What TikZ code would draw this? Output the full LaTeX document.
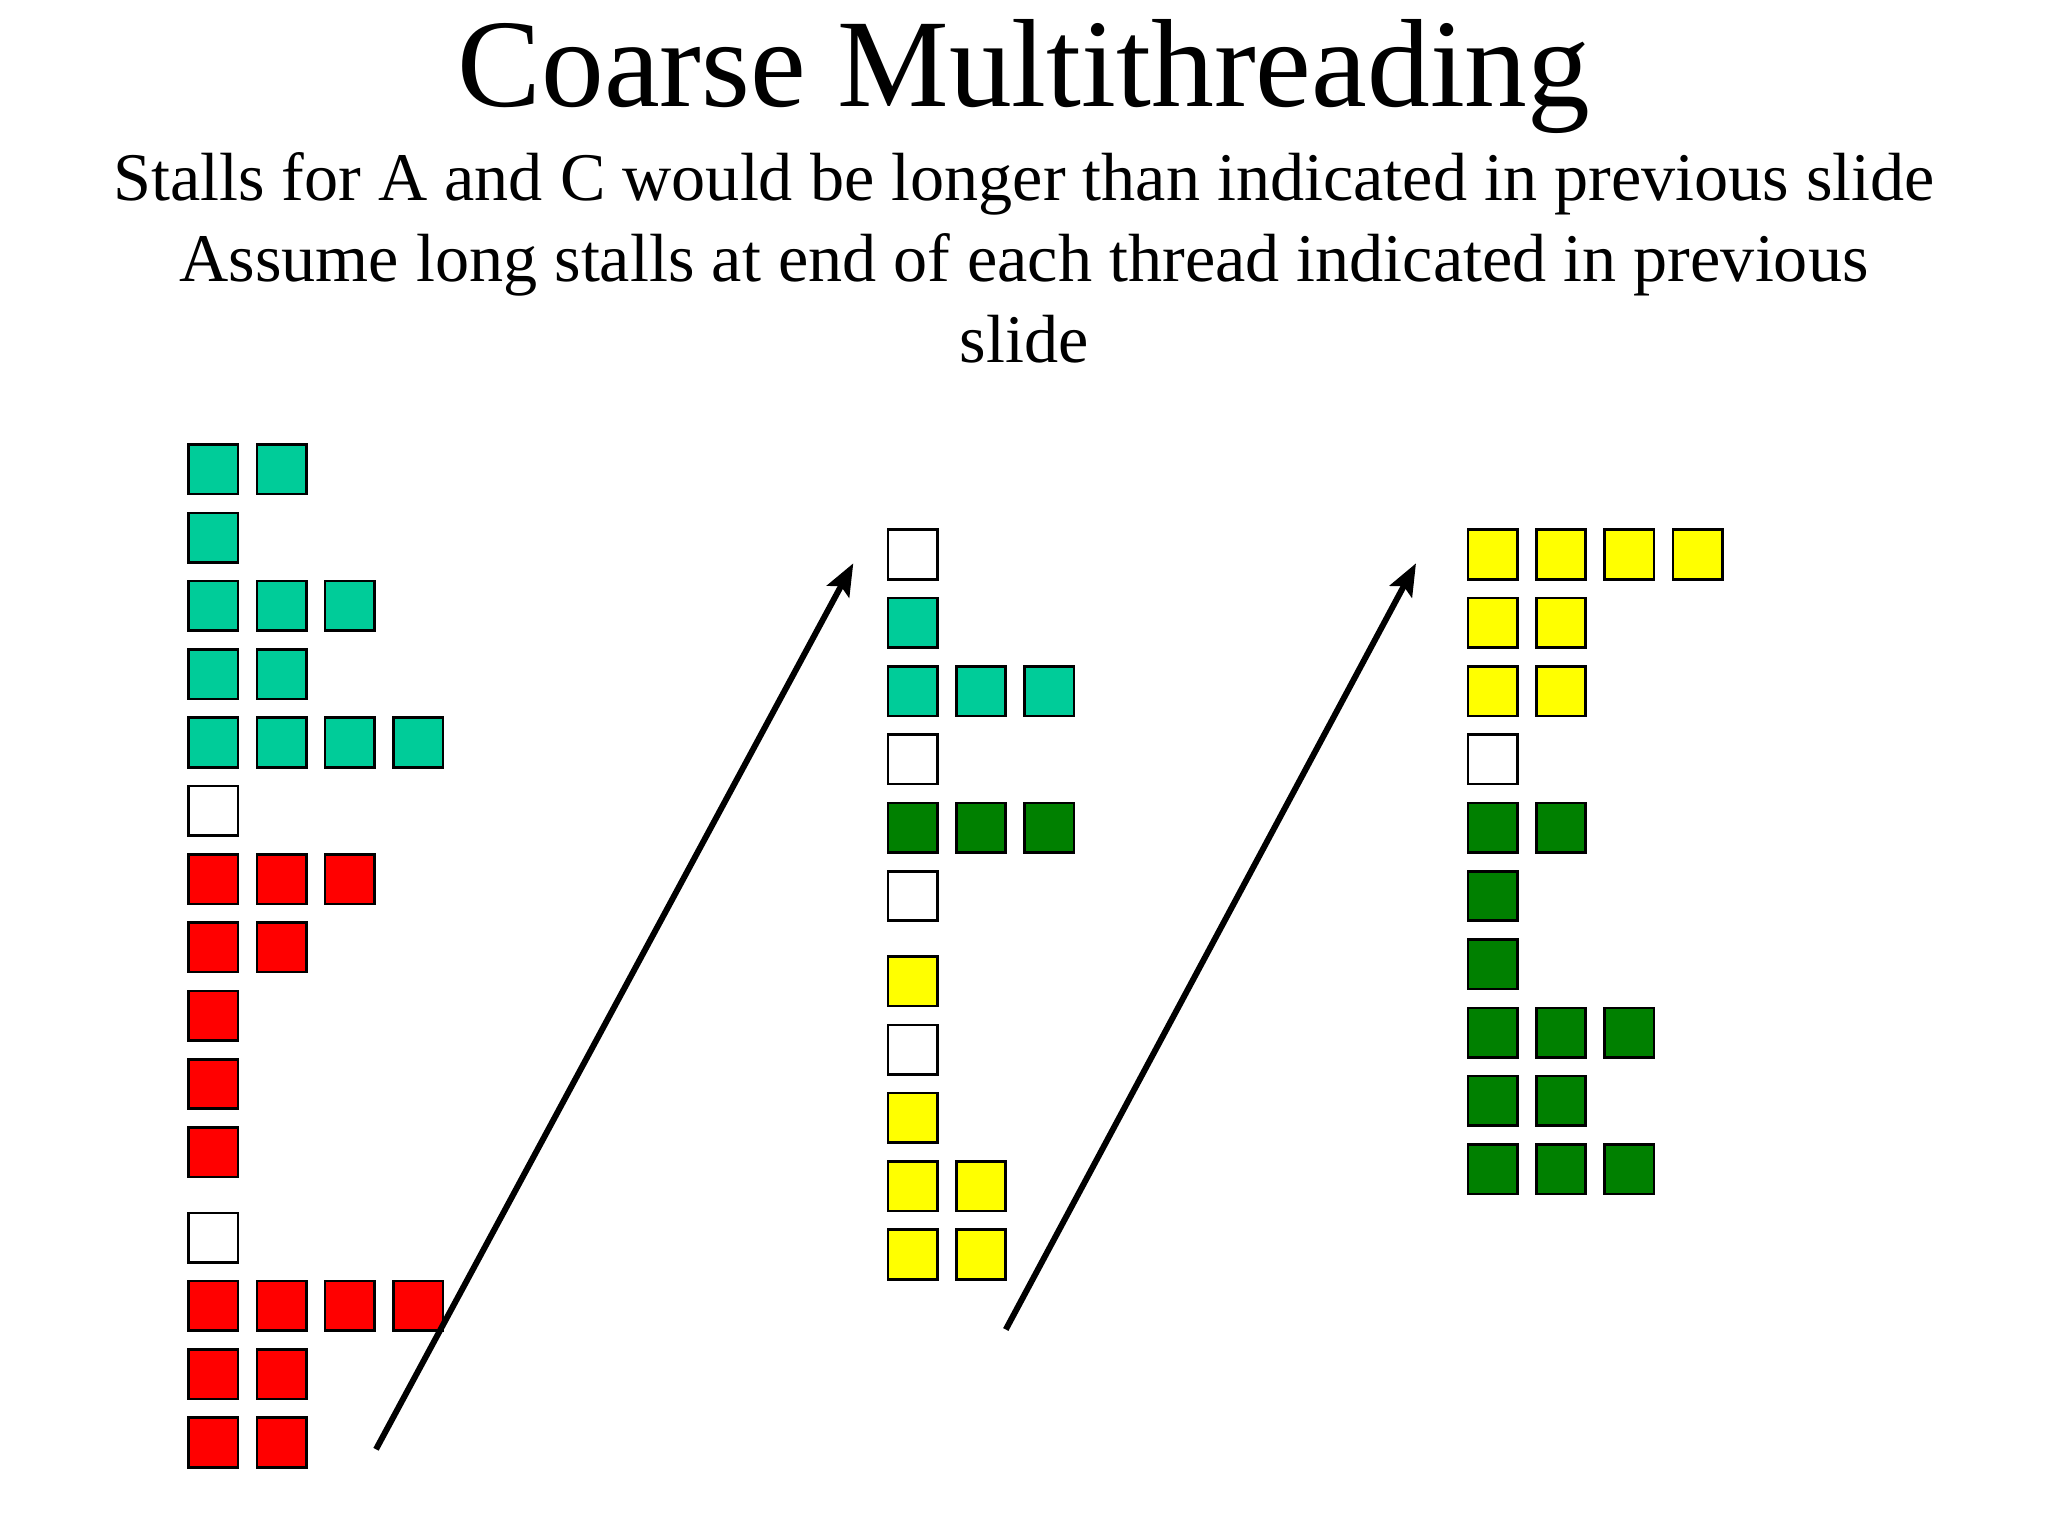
\documentclass[tikz,border=0pt]{standalone}
\usepackage{fontspec}
\setmainfont{Liberation Serif}
\usetikzlibrary{arrows.meta}

\definecolor{threadA}{HTML}{00CC99}
\definecolor{threadB}{HTML}{FF0000}
\definecolor{threadC}{HTML}{FFFF00}
\definecolor{threadD}{HTML}{008000}
\definecolor{idle}{HTML}{FFFFFF}

\begin{document}
\begin{tikzpicture}[>={Stealth[length=0.32cm,width=0.25cm,inset=0.06cm]},
    slot/.style={rectangle,draw=black,line width=0.75pt,minimum size=0.495cm,inner sep=0pt},
    title text/.style={anchor=base,font=\fontsize{35.7}{40}\selectfont},
    sub text/.style={anchor=base,font=\fontsize{19.4}{23}\selectfont},
    switch arrow/.style={->,line width=1.7pt}]

\useasboundingbox (0,0) rectangle (20.48,-15.36);

\node[title text] (title) at (10.24,-1.067) {Coarse Multithreading};
\node[sub text] (sub1) at (10.24,-2.007) {Stalls for A and C would be longer than indicated in previous slide};
\node[sub text] (sub2) at (10.24,-2.817) {Assume long stalls at end of each thread indicated in previous};
\node[sub text] (sub3) at (10.24,-3.627) {slide};

% thread A then B, one thread at a time
\foreach \y/\n/\c [count=\i] in {4.693/2/threadA, 5.376/1/threadA, 6.059/3/threadA,
    6.742/2/threadA, 7.425/4/threadA, 8.108/1/idle, 8.791/3/threadB, 9.474/2/threadB,
    10.157/1/threadB, 10.840/1/threadB, 11.523/1/threadB, 12.376/1/idle,
    13.059/4/threadB, 13.742/2/threadB, 14.425/2/threadB}
  \foreach \k in {1,...,\n}
    \node[slot,fill=\c] (a\i-\k) at ({2.133+0.683*(\k-1)},-\y) {};

% thread A, D then C
\foreach \y/\n/\c [count=\i] in {5.545/1/idle, 6.228/1/threadA, 6.911/3/threadA,
    7.594/1/idle, 8.277/3/threadD, 8.960/1/idle, 9.813/1/threadC, 10.496/1/idle,
    11.179/1/threadC, 11.862/2/threadC, 12.545/2/threadC}
  \foreach \k in {1,...,\n}
    \node[slot,fill=\c] (b\i-\k) at ({9.127+0.683*(\k-1)},-\y) {};

% thread C then D
\foreach \y/\n/\c [count=\i] in {5.545/4/threadC, 6.228/2/threadC, 6.911/2/threadC,
    7.594/1/idle, 8.277/2/threadD, 8.960/1/threadD, 9.643/1/threadD,
    10.326/3/threadD, 11.009/2/threadD, 11.692/3/threadD}
  \foreach \k in {1,...,\n}
    \node[slot,fill=\c] (c\i-\k) at ({14.927+0.683*(\k-1)},-\y) {};

\coordinate (from1) at (3.76,-14.493);
\coordinate (to1) at (8.533,-5.633);
\coordinate (from2) at (10.058,-13.295);
\coordinate (to2) at (14.16,-5.633);

\draw[switch arrow] (from1) -- (to1);
\draw[switch arrow] (from2) -- (to2);

\end{tikzpicture}
\end{document}
